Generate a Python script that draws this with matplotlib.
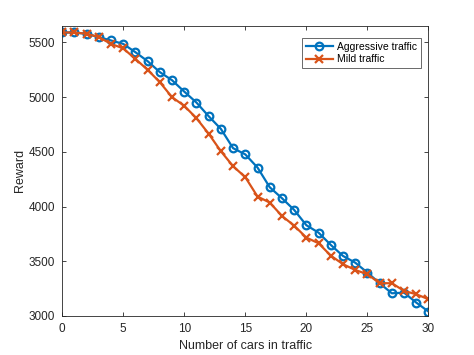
import numpy as np
import matplotlib
matplotlib.use('Agg')
import matplotlib.pyplot as plt

plt.rcParams['font.family'] = ['Liberation Sans', 'DejaVu Sans']

cars = list(range(0, 31))
aggressive = [5590, 5590, 5578, 5548, 5517, 5486, 5410, 5328, 5228, 5154,
              5050, 4950, 4825, 4709, 4533, 4476, 4356, 4176, 4076, 3969,
              3829, 3761, 3649, 3548, 3487, 3396, 3299, 3207, 3213, 3122, 3040]
mild = [5590, 5590, 5578, 5548, 5486, 5445, 5349, 5249, 5136, 4999,
        4920, 4807, 4665, 4505, 4368, 4268, 4091, 4036, 3914, 3825,
        3716, 3664, 3551, 3473, 3420, 3381, 3299, 3299, 3229, 3198, 3153]

blue = '#0072BD'
orange = '#D95319'
grey = '#262626'

fig = plt.figure(figsize=(4.74, 3.55), dpi=100)
ax = fig.add_axes([0.131, 0.11, 0.773, 0.817])

ax.plot(cars, aggressive, color=blue, linewidth=1.6, marker='o',
        markersize=5.5, markerfacecolor='none', markeredgewidth=1.6,
        label='Aggressive traffic')
ax.plot(cars, mild, color=orange, linewidth=1.6, marker='x',
        markersize=5.5, markeredgewidth=1.6, label='Mild traffic')

ax.set_xlim(0, 30)
ax.set_ylim(3000, 5650)
ax.set_xticks(np.arange(0, 31, 5))
ax.set_yticks(np.arange(3000, 5501, 500))
ax.set_xlabel('Number of cars in traffic', fontsize=9, color=grey, labelpad=4)
ax.set_ylabel('Reward', fontsize=9, color=grey, labelpad=2)

for s in ax.spines.values():
    s.set_color(grey)
    s.set_linewidth(0.6)
ax.tick_params(direction='in', length=3, width=0.6, colors=grey, pad=5,
               labelsize=8.5, top=True, right=True, labeltop=False, labelright=False)

leg = ax.legend(loc='upper right', bbox_to_anchor=(0.98, 0.96), fontsize=7.5,
                frameon=True, fancybox=False, edgecolor=grey,
                handlelength=2.6, borderpad=0.4, labelspacing=0.25,
                handletextpad=0.4, borderaxespad=0)
leg.get_frame().set_linewidth(0.6)

plt.savefig('out.png', dpi=100)
